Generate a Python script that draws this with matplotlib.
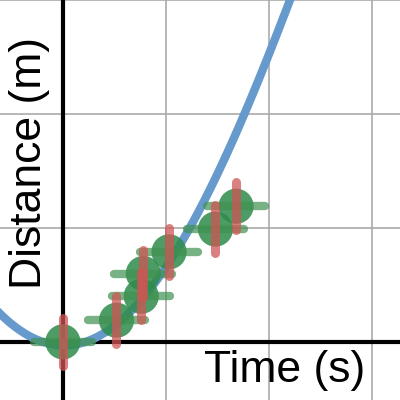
import numpy as np
import matplotlib.pyplot as plt

plt.rcParams["font.family"] = ["Liberation Sans", "DejaVu Sans"]

times = [0.0, 0.52, 0.76, 0.78, 1.03, 1.48, 1.68]
distances = [0.0, 0.19, 0.40, 0.60, 0.79, 0.99, 1.19]
time_err = [0.28, 0.28, 0.28, 0.28, 0.28, 0.28, 0.28]
dist_err = [0.21, 0.21, 0.21, 0.21, 0.21, 0.21, 0.21]

# samples
curve_t = [-0.61, -0.29, -0.08, 0.46, 0.84, 1.33, 1.46, 1.8, 2.2]
curve_d = [0.25, 0.02, -0.01, 0.13, 0.41, 1.20, 1.42, 2.05, 3.0]


def main():
    fig = plt.figure(figsize=(4, 4), dpi=100)
    ax = fig.add_axes([0, 0, 1, 1])
    ax.set_xlim(-0.61, 3.27)
    ax.set_ylim(-0.51, 3.0)

    for gx in [1, 2, 3]:
        ax.axvline(gx, color="#aaaaaa", lw=1.2, zorder=0)
    for gy in [1, 2, 3]:
        ax.axhline(gy, color="#aaaaaa", lw=1.2, zorder=0)
    ax.axvline(0, color="black", lw=3, zorder=1)
    ax.axhline(0, color="black", lw=3, zorder=1)

    coef = np.polyfit(curve_t, curve_d, 4)
    tt = np.linspace(-0.7, 2.4, 300)
    ax.plot(tt, np.polyval(coef, tt), color="#6699cc", lw=6, zorder=2)

    ax.scatter(times, distances, s=640, color="#2e8b4a", alpha=0.85,
               edgecolors="none", zorder=3)
    _, _, hbars = ax.errorbar(times, distances, xerr=time_err, fmt="none",
                              ecolor="#3f9150", alpha=0.7, elinewidth=6, zorder=4)
    _, _, vbars = ax.errorbar(times, distances, yerr=dist_err, fmt="none",
                              ecolor="#d05555", alpha=0.75, elinewidth=6.5, zorder=5)
    for coll in list(hbars) + list(vbars):
        coll.set_capstyle("round")

    ax.text(2.15, -0.25, "Time (s)", fontsize=32, ha="center", va="center")
    ax.text(-0.32, 1.57, "Distance (m)", fontsize=32, rotation=90,
            ha="center", va="center")

    ax.set_xticks([])
    ax.set_yticks([])
    for s in ax.spines.values():
        s.set_visible(False)

    fig.savefig("out.png", dpi=100)


if __name__ == "__main__":
    main()
